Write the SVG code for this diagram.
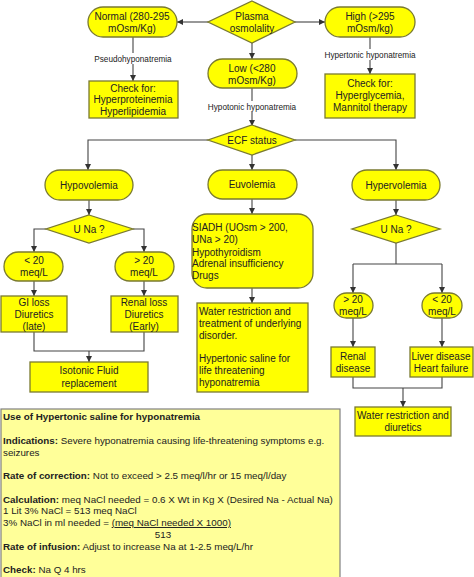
<svg xmlns="http://www.w3.org/2000/svg" width="474" height="577" viewBox="0 0 474 577">
<defs>
<marker id="arr" markerUnits="userSpaceOnUse" markerWidth="7" markerHeight="6" refX="6" refY="3" orient="auto">
<path d="M0,0 L6,3 L0,6 z" fill="#333"/>
</marker>
<style>
.n{fill:#ffff00;stroke:#7a7a30;stroke-width:1.3}
.t{font-family:"Liberation Sans",Arial,sans-serif;font-size:10px;fill:#222;text-anchor:middle}
.tl{font-family:"Liberation Sans",Arial,sans-serif;font-size:10px;fill:#222}
.s{font-family:"Liberation Sans",Arial,sans-serif;font-size:8.2px;fill:#222;text-anchor:middle}
.c{fill:none;stroke:#444;stroke-width:1.1}
.ca{fill:none;stroke:#444;stroke-width:1.1;marker-end:url(#arr)}
.p{font-family:"Liberation Sans",Arial,sans-serif;font-size:9.8px;fill:#222}
.b{font-weight:bold}
</style>
</defs>
<rect width="474" height="577" fill="#ffffff"/>

<g id="connectors">
<path class="ca" d="M208,22 H177"/>
<path class="ca" d="M295,22 H325"/>
<path class="ca" d="M252,43 V59"/>
<path class="c" d="M133,37 V53"/>
<path class="ca" d="M133,64 V81"/>
<path class="c" d="M370,37 V49"/>
<path class="ca" d="M370,60 V74"/>
<path class="c" d="M252,88 V101"/>
<path class="ca" d="M252,112 V126"/>
<path class="ca" d="M208,140 H88 V170"/>
<path class="ca" d="M252,155 V170"/>
<path class="ca" d="M295,140 H396 V170"/>
<path class="ca" d="M89,200 V215"/>
<path class="ca" d="M46,229 H34 V252"/>
<path class="ca" d="M133,229 H144 V252"/>
<path class="ca" d="M34,281 V296"/>
<path class="ca" d="M144,281 V296"/>
<path class="c" d="M34,332 V351 H144 V332"/>
<path class="ca" d="M89,351 V362"/>
<path class="ca" d="M252,199 V214"/>
<path class="ca" d="M252,288 V303"/>
<path class="ca" d="M396,200 V215"/>
<path class="c" d="M396,243 V264"/>
<path class="c" d="M353,264 H442"/>
<path class="ca" d="M353,264 V293"/>
<path class="ca" d="M442,264 V293"/>
<path class="ca" d="M353,318 V347"/>
<path class="ca" d="M442,318 V347"/>
<path class="c" d="M353,377 V388 H442 V377"/>
<path class="ca" d="M403,388 V407"/>
</g>

<text class="s" x="133" y="62">Pseudohyponatremia</text>
<text class="s" x="370" y="58">Hypertonic hyponatremia</text>
<text class="s" x="252" y="110">Hypotonic hyponatremia</text>

<g id="plasma">
<polygon class="n" points="252,1 295,22 252,43 208,22"/>
<text class="t" x="252" y="20">Plasma</text>
<text class="t" x="252" y="32">osmolality</text>
</g>
<g id="normal">
<rect class="n" x="88" y="7" width="89" height="30" rx="15"/>
<text class="t" x="132" y="20">Normal (280-295</text>
<text class="t" x="132" y="32">mOsm/Kg)</text>
</g>
<g id="high">
<rect class="n" x="325" y="7" width="90" height="30" rx="15"/>
<text class="t" x="370" y="20">High (&gt;295</text>
<text class="t" x="370" y="32">mOsm/kg)</text>
</g>
<g id="check1">
<rect class="n" x="89" y="81" width="89" height="37"/>
<text class="t" x="133" y="92">Check for:</text>
<text class="t" x="133" y="103">Hyperproteinemia</text>
<text class="t" x="133" y="115">Hyperlipidemia</text>
</g>
<g id="check2">
<rect class="n" x="325" y="74" width="90" height="44"/>
<text class="t" x="370" y="87">Check for:</text>
<text class="t" x="370" y="99">Hyperglycemia,</text>
<text class="t" x="370" y="111">Mannitol therapy</text>
</g>
<g id="low">
<rect class="n" x="208" y="59" width="89" height="29" rx="14.5"/>
<text class="t" x="252" y="72">Low (&lt;280</text>
<text class="t" x="252" y="84">mOsm/Kg)</text>
</g>
<g id="ecf">
<polygon class="n" points="252,125 295,140 252,155 208,140"/>
<text class="t" x="252" y="144">ECF status</text>
</g>
<g id="hypovolemia">
<rect class="n" x="45" y="170" width="88" height="30" rx="15"/>
<text class="t" x="89" y="189">Hypovolemia</text>
</g>
<g id="euvolemia">
<rect class="n" x="208" y="170" width="89" height="29" rx="14.5"/>
<text class="t" x="252" y="188">Euvolemia</text>
</g>
<g id="hypervolemia">
<rect class="n" x="352" y="170" width="88" height="30" rx="15"/>
<text class="t" x="396" y="189">Hypervolemia</text>
</g>
<g id="una1">
<polygon class="n" points="89,215 133,229 89,243 46,229"/>
<text class="t" x="89" y="233">U Na ?</text>
</g>
<g id="una2">
<polygon class="n" points="396,215 440,229 396,243 352,229"/>
<text class="t" x="396" y="233">U Na ?</text>
</g>
<g id="lt20a">
<rect class="n" x="4" y="252" width="59" height="29" rx="14.5"/>
<text class="t" x="34" y="264">&lt; 20</text>
<text class="t" x="34" y="276">meq/L</text>
</g>
<g id="gt20a">
<rect class="n" x="115" y="252" width="59" height="29" rx="14.5"/>
<text class="t" x="144" y="264">&gt; 20</text>
<text class="t" x="144" y="276">meq/L</text>
</g>
<g id="giloss">
<rect class="n" x="1" y="296" width="66" height="36"/>
<text class="t" x="34" y="306">GI loss</text>
<text class="t" x="34" y="318">Diuretics</text>
<text class="t" x="34" y="330">(late)</text>
</g>
<g id="renalloss">
<rect class="n" x="111" y="296" width="67" height="36"/>
<text class="t" x="144" y="306">Renal loss</text>
<text class="t" x="144" y="318">Diuretics</text>
<text class="t" x="144" y="330">(Early)</text>
</g>
<g id="isotonic">
<rect class="n" x="30" y="362" width="118" height="30"/>
<text class="t" x="89" y="374">Isotonic Fluid</text>
<text class="t" x="89" y="387">replacement</text>
</g>
<g id="siadh">
<rect class="n" x="192" y="214" width="121" height="74" rx="15"/>
<text class="tl" x="192" y="231">SIADH (UOsm &gt; 200,</text>
<text class="tl" x="192" y="243">UNa &gt; 20)</text>
<text class="tl" x="192" y="256">Hypothyroidism</text>
<text class="tl" x="192" y="267">Adrenal insufficiency</text>
<text class="tl" x="192" y="279">Drugs</text>
</g>
<g id="water1">
<rect class="n" x="197" y="303" width="111" height="89"/>
<text class="tl" x="199" y="315">Water restriction and</text>
<text class="tl" x="199" y="327">treatment of underlying</text>
<text class="tl" x="199" y="339">disorder.</text>
<text class="tl" x="199" y="362">Hypertonic saline for</text>
<text class="tl" x="199" y="374">life threatening</text>
<text class="tl" x="199" y="386">hyponatremia</text>
</g>
<g id="gt20b">
<rect class="n" x="334" y="293" width="39" height="25" rx="12.5"/>
<text class="t" x="353" y="303">&gt; 20</text>
<text class="t" x="353" y="315">meq/L</text>
</g>
<g id="lt20b">
<rect class="n" x="422" y="293" width="40" height="25" rx="12.5"/>
<text class="t" x="442" y="303">&lt; 20</text>
<text class="t" x="442" y="315">meq/L</text>
</g>
<g id="renaldisease">
<rect class="n" x="331" y="347" width="44" height="30"/>
<text class="t" x="353" y="360">Renal</text>
<text class="t" x="353" y="372">disease</text>
</g>
<g id="liver">
<rect class="n" x="410" y="347" width="63" height="30"/>
<text class="t" x="441" y="360">Liver disease</text>
<text class="t" x="441" y="372">Heart failure</text>
</g>
<g id="water2">
<rect class="n" x="355" y="407" width="96" height="29"/>
<text class="t" x="403" y="419">Water restriction and</text>
<text class="t" x="403" y="431">diuretics</text>
</g>

<g id="panel">
<rect x="1" y="409" width="339" height="172" fill="#ffff99" stroke="#808080" stroke-width="1.2"/>
<text class="p b" x="3" y="420">Use of Hypertonic saline for hyponatremia</text>
<text class="p" x="3" y="444"><tspan class="b">Indications:</tspan> Severe hyponatremia causing life-threatening symptoms e.g.</text>
<text class="p" x="3" y="456">seizures</text>
<text class="p" x="3" y="479"><tspan class="b">Rate of correction:</tspan> Not to exceed &gt; 2.5 meq/l/hr or 15 meq/l/day</text>
<text class="p" x="3" y="503"><tspan class="b">Calculation:</tspan> meq NaCl needed = 0.6 X Wt in Kg X (Desired Na - Actual Na)</text>
<text class="p" x="3" y="514">1 Lit 3% NaCl = 513 meq NaCl</text>
<text class="p" x="3" y="526">3% NaCl in ml needed = <tspan text-decoration="underline">(meq NaCl needed X 1000)</tspan></text>
<text class="p" x="163" y="538" text-anchor="middle">513</text>
<text class="p" x="3" y="550"><tspan class="b">Rate of infusion:</tspan> Adjust to increase Na at 1-2.5 meq/L/hr</text>
<text class="p" x="3" y="573"><tspan class="b">Check:</tspan> Na Q 4 hrs</text>
</g>
</svg>
